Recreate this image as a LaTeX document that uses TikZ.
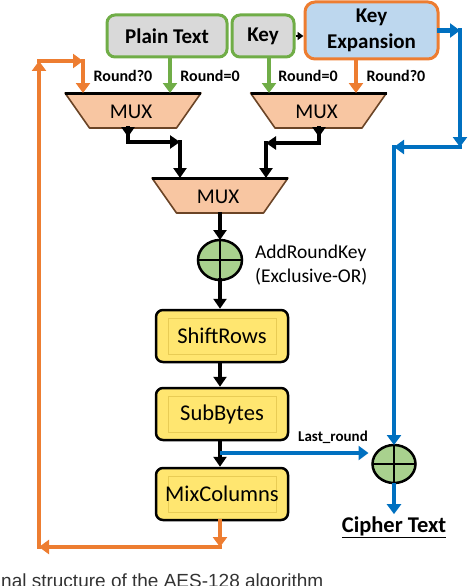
\documentclass[tikz,border=0pt]{standalone}
\usepackage{fontspec}
\setmainfont{Carlito}
\newfontfamily\capfont{Liberation Sans}
\usetikzlibrary{shapes.geometric,arrows.meta,calc}
\definecolor{corange}{HTML}{ED7D31}
\definecolor{cgreen}{HTML}{70AD47}
\definecolor{cblue}{HTML}{0070C0}
\definecolor{cpeach}{HTML}{F8C6A2}
\definecolor{cmuxedge}{HTML}{6B4426}
\definecolor{cgrey}{HTML}{D9D9D9}
\definecolor{clblue}{HTML}{BDD7EE}
\definecolor{cyellow}{HTML}{FFE670}
\definecolor{cbevel}{HTML}{E8CC55}
\definecolor{cxor}{HTML}{A9D18E}
\newcommand\muxat[3]{%
  \fill[cpeach] (#2-68,#3-17.5) -- (#2+68,#3-17.5) -- (#2+43.5,#3+17.5) -- (#2-43.5,#3+17.5) -- cycle;
  \draw[cmuxedge,line width=1.6pt,line join=round] (#2-68,#3-17.5) -- (#2+68,#3-17.5) -- (#2+43.5,#3+17.5) -- (#2-43.5,#3+17.5) -- cycle;
  \draw[black,line width=3pt] (#2-68,#3-17.5) -- (#2+68,#3-17.5);
  \node[muxtext] (#1) at (#2-2,#3+1) {MUX};}
\begin{document}
\begin{tikzpicture}[x=1pt,y=-1pt,
  inbox/.style={draw=cgreen, line width=3pt, fill=cgrey, rounded corners=8pt,
    minimum height=42pt, inner sep=0pt, font=\fontsize{21}{24}\selectfont\bfseries},
  kexpbox/.style={draw=corange, line width=3pt, fill=clblue, rounded corners=10pt,
    minimum width=133pt, minimum height=57pt, inner sep=0pt, align=center,
    font=\fontsize{21}{26}\selectfont\bfseries},
  muxtext/.style={minimum width=87pt, minimum height=35pt, inner sep=0pt,
    font=\fontsize{21}{24}\selectfont},
  stage/.style={draw=black, line width=2.5pt, fill=cyellow, rounded corners=7pt,
    minimum width=132pt, minimum height=52pt, inner sep=0pt,
    font=\fontsize{22.5}{26}\selectfont,
    path picture={\draw[cbevel,line width=1pt,sharp corners]
      ($(path picture bounding box.north west)+(12,8)$) rectangle
      ($(path picture bounding box.south east)+(-12,-8)$);}},
  xorgate/.style={ellipse, draw=black, line width=2.5pt, fill=cxor, inner sep=0pt, outer sep=0pt},
  lbl/.style={inner sep=0pt, font=\fontsize{16}{18}\selectfont\bfseries},
  plain/.style={inner sep=0pt, font=\fontsize{19.5}{22}\selectfont},
  karr/.style={line width=4pt, line cap=rect, -{Triangle[length=10pt,width=13pt]}},
  kline/.style={line width=4pt, line cap=rect},
  oarr/.style={corange, line width=4.5pt, line cap=rect, -{Triangle[length=10pt,width=14pt]}},
  garr/.style={cgreen, line width=4.5pt, -{Triangle[length=10pt,width=14pt]}},
  barr/.style={cblue, line width=4.5pt, line cap=rect, -{Triangle[length=10pt,width=14pt]}},
]
\useasboundingbox (0,0) rectangle (468,586);
\clip (0,0) rectangle (468,586);

% top inputs
\node[inbox, minimum width=120pt] (plaintext) at (167,36) {Plain Text};
\node[inbox, minimum width=62pt] (key) at (263,36) {Key};
\node[kexpbox] (kexp) at (371.5,30.5) {Key\\Expansion};
\draw[line width=2pt, -{Triangle[length=6pt,width=8pt]}] (key.east) -- (kexp.west |- key.east);

% labels
\node[lbl] (lra) at (123,76) {Round?0};
\node[lbl] (lrb) at (210,76) {Round=0};
\node[lbl] (lrc) at (308,76) {Round=0};
\node[lbl] (lrd) at (396,76) {Round?0};

% multiplexers
\muxat{muxa}{133}{110.5}
\muxat{muxb}{318.5}{110.5}
\muxat{muxc}{220}{195.5}

% input coordinates
\coordinate (ina1) at (83,93);
\coordinate (inb1) at (170,93);
\coordinate (ina2) at (269,93);
\coordinate (inb2) at (356,93);
\coordinate (inc1) at (180,178);
\coordinate (inc2) at (266,178);

\draw[garr] (plaintext.south -| inb1) -- (inb1);
\draw[garr] (key.south -| ina2) -- (ina2);
\draw[oarr] (kexp.south -| inb2) -- (inb2);

% mux outputs to mux c
\coordinate (outa) at (128,128);
\coordinate (ka) at (128,142);
\coordinate (kb) at (inc1 |- ka);
\coordinate (outb) at (319,128);
\coordinate (kc) at (319,143);
\coordinate (kd) at (inc2 |- kc);
\draw[kline] (outa) -- (ka);
\draw[karr] (outa) -- ++(0,9);
\draw[karr] (ka) -- (kb);
\draw[karr] (kb) -- (inc1);
\draw[kline] (outb) -- (kc);
\draw[karr] (outb) -- ++(0,9);
\draw[karr] (kc) -- (kd);
\draw[karr] (kd) -- (inc2);

% AddRoundKey
\node[xorgate, minimum width=44pt, minimum height=40pt] (xa) at (220,260) {};
\draw[line width=2.5pt] (xa.north) -- (xa.south) (xa.west) -- (xa.east);
\node[plain, anchor=west] (ark) at (255,253) {AddRoundKey};
\node[plain, anchor=west] (exor) at (255,277) {(Exclusive-OR)};
\draw[karr] (muxc.south -| xa) -- (xa.north);

% stages
\node[stage] (sr) at (222,336) {ShiftRows};
\node[stage] (sb) at (222,414) {SubBytes};
\node[stage] (mc) at (222,494) {MixColumns};
\draw[karr] (xa.south) -- (sr.north -| xa);
\draw[karr] (sr.south -| xa) -- (sb.north -| xa);
\draw[karr] (sb.south -| xa) -- (mc.north -| xa);

% final xor
\node[xorgate, minimum width=43pt, minimum height=38pt] (xb) at (394,464) {};
\draw[line width=2.5pt] (xb.north) -- (xb.south) (xb.west) -- (xb.east);
\coordinate (tap) at (220,453);
\draw[barr, line cap=butt] (tap) -- ($(tap -| xb.west)+(-4,0)$);
\node[lbl, font=\fontsize{15}{17}\selectfont\bfseries, anchor=west] (lastr) at (298,437) {Last\_round};

% key expansion path (blue)
\coordinate (b1) at (460,30.5);
\coordinate (b2) at (460,147);
\coordinate (b3) at (xb |- b2);
\draw[barr] (kexp.east) -- (b1);
\draw[barr] (b1) -- (b2);
\draw[barr] (b2) -- (b3);
\draw[barr] (b3) -- (xb.north);
\node[inner sep=0pt, font=\fontsize{22.5}{26}\selectfont\bfseries] (ct) at (394,527) {\underline{Cipher Text}};
\draw[barr, line cap=butt] (xb.south) -- ($(ct.north)+(0,-2)$);

% feedback path (orange)
\coordinate (o1) at (220,547);
\coordinate (o2) at (39,547);
\coordinate (o3) at (39,61);
\coordinate (o4) at (ina1 |- o3);
\draw[oarr] (mc.south -| o1) -- (o1);
\draw[oarr] (o1) -- (o2);
\draw[oarr] (o2) -- (o3);
\draw[oarr] (o3) -- (o4);
\draw[oarr] (o4) -- (ina1);

% caption (cut off)
\node[anchor=base west, inner sep=0pt, text=black!80, font=\capfont\fontsize{19}{22}\selectfont] (cap) at (1,587) {nal structure of the AES-128 algorithm};
\end{tikzpicture}
\end{document}
